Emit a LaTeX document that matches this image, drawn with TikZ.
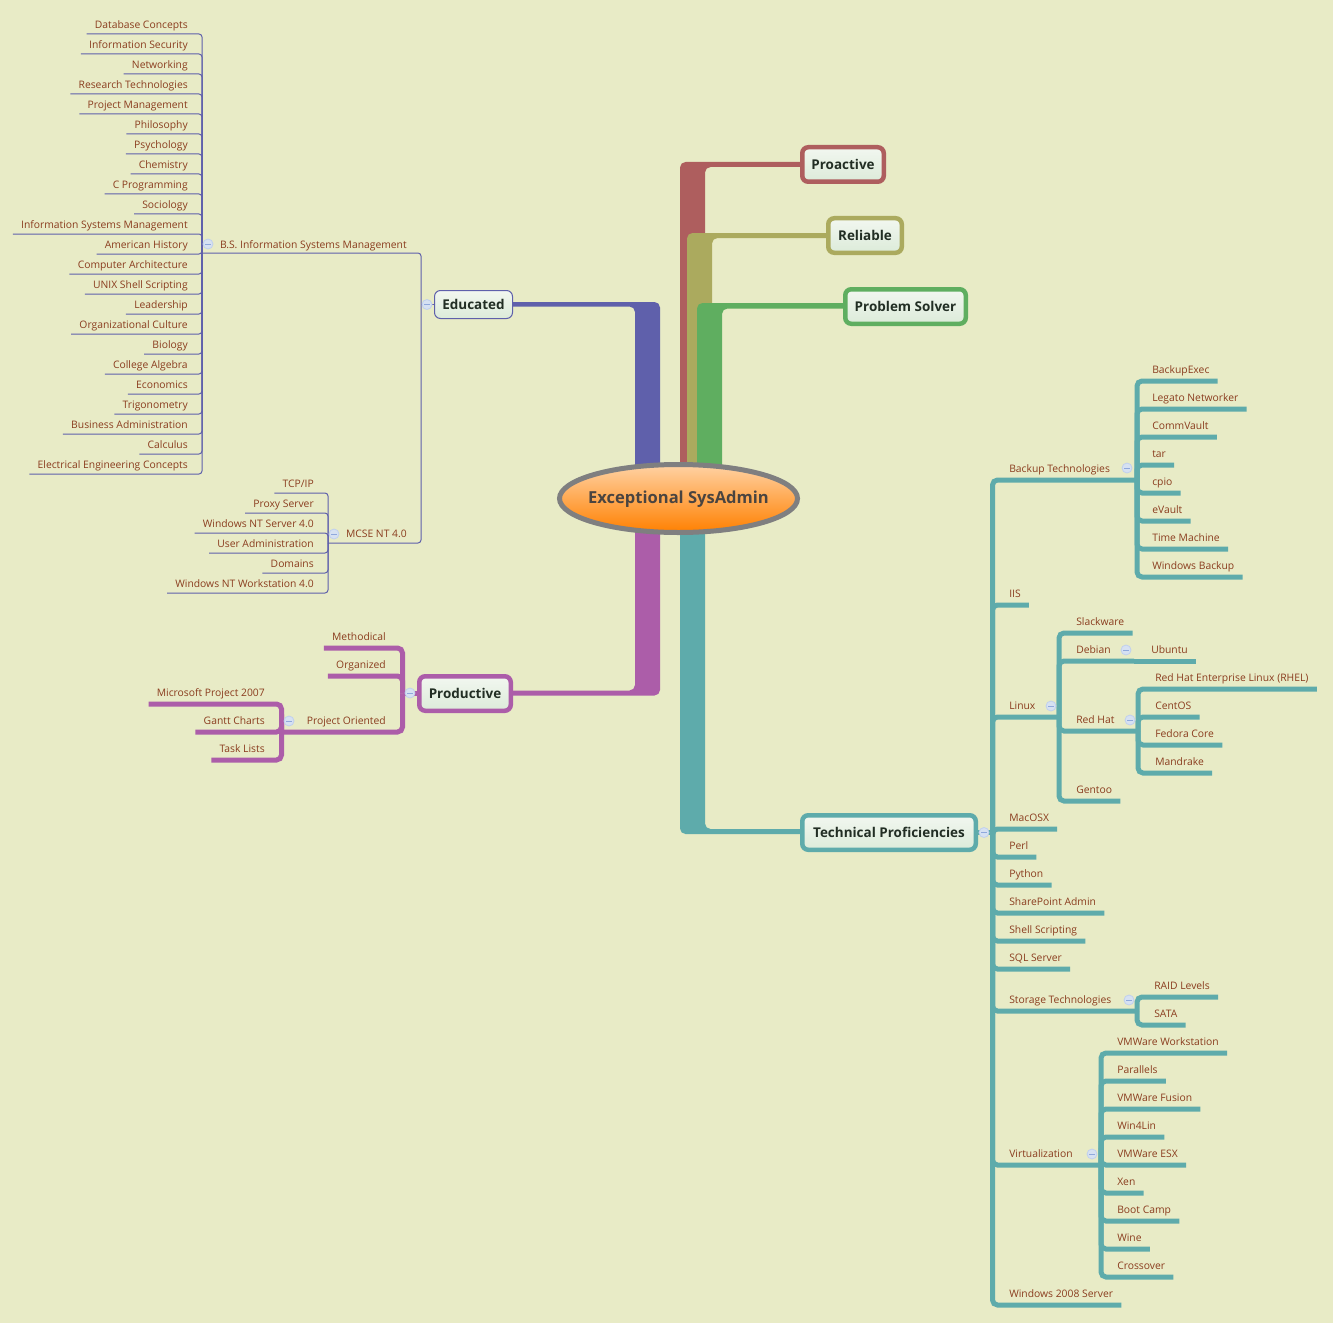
\documentclass[tikz,border=0pt]{standalone}
\usepackage{fontspec}
\setmainfont{Open Sans}
\usetikzlibrary{backgrounds,shapes.geometric}
\newdimen\pxu \pxu=0.75pt
\definecolor{bgc}{HTML}{E8EBC6}
\definecolor{cblue}{HTML}{5F60AB}
\definecolor{cred}{HTML}{AE5E5E}
\definecolor{colive}{HTML}{ABAA5E}
\definecolor{cgreen}{HTML}{5FAE60}
\definecolor{cteal}{HTML}{5EABAB}
\definecolor{cpurp}{HTML}{AC5DA9}
\definecolor{itemc}{HTML}{8A3C1E}
\definecolor{headc}{HTML}{222E24}
\definecolor{boxtop}{HTML}{F2F7F0}
\definecolor{boxbot}{HTML}{DCEBD9}
\definecolor{roottop}{HTML}{FFD2A4}
\definecolor{rootbot}{HTML}{FF8000}
\definecolor{rootedge}{HTML}{7F7F80}
\definecolor{roottext}{HTML}{4A4440}
\definecolor{markfill}{HTML}{D6E1F2}
\definecolor{markedge}{HTML}{C0D0EE}
\definecolor{markbar}{HTML}{8FA8DC}
\tikzset{
  item/.style={inner xsep=8\pxu,inner ysep=0pt,text=itemc,font=\fontsize{7.75}{9}\selectfont,text depth=0pt,text height=7\pxu},
  itemt/.style={item,inner ysep=7\pxu},
  itemb/.style={item,inner ysep=5.5\pxu},
  itemp/.style={item,inner ysep=4.5\pxu},
  topic/.style={rounded corners=6\pxu,draw,line width=4.5\pxu,inner sep=0pt,top color=boxtop,bottom color=boxbot,text=headc,font=\bfseries\fontsize{10.1}{12}\selectfont},
  rootn/.style={ellipse,draw=rootedge,line width=5\pxu,inner sep=0pt,top color=roottop,bottom color=rootbot,text=roottext,font=\bfseries\fontsize{12.4}{15}\selectfont},
  trunkfill/.style={rounded corners=5.5\pxu},
  blueline/.style={cblue,line width=1\pxu,rounded corners=3\pxu},
  purpline/.style={cpurp,line width=5\pxu,rounded corners=5\pxu},
  tealline/.style={cteal,line width=5\pxu,rounded corners=5\pxu},
  collapse/.style={circle,inner sep=0pt,minimum size=10\pxu,fill=markfill,draw=markedge,line width=0.8\pxu,
    path picture={\draw[markbar,line width=0.9\pxu] ([xshift=-2.6\pxu]path picture bounding box.center) -- ([xshift=2.6\pxu]path picture bounding box.center);}}
}
\newcommand{\LL}[6]{\node[#1,anchor=south east] (#2) at (#4+8,#5) {#6};}
\newcommand{\RR}[6]{\node[#1,anchor=south west] (#2) at (#4-8,#5) {#6};}
\newcommand{\LLL}[7]{\LL{#1}{#2}{#3}{#4}{#5}{#6}\draw[#7] (#3) |- (#2.south west);}
\newcommand{\RRR}[7]{\RR{#1}{#2}{#3}{#4}{#5}{#6}\draw[#7] (#3) |- (#2.south east);}
\newcommand{\trunk}[4]{%
 \coordinate (#2o) at (#3); \coordinate (#2i) at (#4);
 \fill[#1,trunkfill] (#2.center |- #2o) -- (#2o) -- (#2o |- root.center) -- (#2i |- root.center) -- (#2i) -- (#2.center |- #2i) -- cycle;}
\begin{document}
\begin{tikzpicture}[x=0.75pt,y=-0.75pt]
\useasboundingbox (0,0) rectangle (1333,1323);
\begin{scope}[on background layer]
\fill[bgc] (0,0) rectangle (1333,1323);
\end{scope}
\node[rootn,minimum width=238\pxu,minimum height=68\pxu] (root) at (678.5,498.5) {\makebox[0pt]{\smash{\raisebox{-3.4pt}{Exceptional SysAdmin}}}};
\node[topic,draw=cred,minimum width=81.5\pxu,minimum height=34.5\pxu] (pro) at (843,164.5) {Proactive};
\node[topic,draw=colive,minimum width=73.5\pxu,minimum height=34.5\pxu] (rel) at (865,235.5) {Reliable};
\node[topic,draw=cgreen,minimum width=120.5\pxu,minimum height=34.5\pxu] (sol) at (905.5,306.5) {Problem Solver};
\node[topic,draw=cteal,minimum width=173.5\pxu,minimum height=34.5\pxu] (tech) at (889,832.5) {Technical Proficiencies};
\node[topic,draw=cpurp,minimum width=91.5\pxu,minimum height=34.5\pxu] (prod) at (465,693.5) {Productive};
\node[topic,draw=cblue,line width=1\pxu,minimum width=78\pxu,minimum height=28\pxu] (edu) at (473.5,304.5) {Educated};
\begin{scope}[on background layer]
\trunk{cred}{pro}{680,162}{705,167}
\trunk{colive}{rel}{687,233}{712,238}
\trunk{cgreen}{sol}{697,303}{722,308.5}
\trunk{cblue}{edu}{660,302}{635,306.5}
\trunk{cpurp}{prod}{660,695.5}{635,690.5}
\trunk{cteal}{tech}{680,834}{705,829}
\end{scope}
% Educated
\coordinate (edj) at (421,304.5);
\draw[blueline] (edu.west) -- (edj);
\LL{itemp}{bs}{edj}{407}{253}{B.S. Information Systems Management}
\coordinate (bsj) at (202,253);
\draw[blueline] (edj) |- (bs.south west) -- (bsj);
\LL{itemb}{mcse}{edj}{407}{543}{MCSE NT 4.0}
\coordinate (mcj) at (328,543);
\draw[blueline] (edj) |- (mcse.south west) -- (mcj);
\LLL{itemb}{l1}{bsj}{188}{34}{Database Concepts}{blueline}
\LLL{itemb}{l2}{bsj}{188}{54}{Information Security}{blueline}
\LLL{itemb}{l3}{bsj}{188}{74}{Networking}{blueline}
\LLL{itemb}{l4}{bsj}{188}{94}{Research Technologies}{blueline}
\LLL{itemb}{l5}{bsj}{188}{114}{Project Management}{blueline}
\LLL{itemb}{l6}{bsj}{188}{134}{Philosophy}{blueline}
\LLL{itemb}{l7}{bsj}{188}{154}{Psychology}{blueline}
\LLL{itemb}{l8}{bsj}{188}{174}{Chemistry}{blueline}
\LLL{itemb}{l9}{bsj}{188}{194}{C Programming}{blueline}
\LLL{itemb}{l10}{bsj}{188}{214}{Sociology}{blueline}
\LLL{itemb}{l11}{bsj}{188}{234}{Information Systems Management}{blueline}
\LLL{itemb}{l12}{bsj}{188}{254}{American History}{blueline}
\LLL{itemb}{l13}{bsj}{188}{274}{Computer Architecture}{blueline}
\LLL{itemb}{l14}{bsj}{188}{294}{UNIX Shell Scripting}{blueline}
\LLL{itemb}{l15}{bsj}{188}{314}{Leadership}{blueline}
\LLL{itemb}{l16}{bsj}{188}{334}{Organizational Culture}{blueline}
\LLL{itemb}{l17}{bsj}{188}{354}{Biology}{blueline}
\LLL{itemb}{l18}{bsj}{188}{374}{College Algebra}{blueline}
\LLL{itemb}{l19}{bsj}{188}{394}{Economics}{blueline}
\LLL{itemb}{l20}{bsj}{188}{414}{Trigonometry}{blueline}
\LLL{itemb}{l21}{bsj}{188}{434}{Business Administration}{blueline}
\LLL{itemb}{l22}{bsj}{188}{454}{Calculus}{blueline}
\LLL{itemb}{l23}{bsj}{188}{474}{Electrical Engineering Concepts}{blueline}
\LLL{itemb}{m1}{mcj}{314}{493}{TCP/IP}{blueline}
\LLL{itemb}{m2}{mcj}{314}{513}{Proxy Server}{blueline}
\LLL{itemb}{m3}{mcj}{314}{533}{Windows NT Server 4.0}{blueline}
\LLL{itemb}{m4}{mcj}{314}{553}{User Administration}{blueline}
\LLL{itemb}{m5}{mcj}{314}{573}{Domains}{blueline}
\LLL{itemb}{m6}{mcj}{314}{593}{Windows NT Workstation 4.0}{blueline}
% Productive
\coordinate (prj) at (402.5,693.5);
\draw[purpline] (prod.west) -- (prj);
\LLL{itemt}{p1}{prj}{386}{648}{Methodical}{purpline}
\LLL{itemt}{p2}{prj}{386}{676}{Organized}{purpline}
\LL{itemt}{p3}{prj}{386}{732}{Project Oriented}
\coordinate (poj) at (281.5,732);
\draw[purpline] (prj) |- (p3.south west) -- (poj);
\LLL{itemt}{p4}{poj}{265}{704}{Microsoft Project 2007}{purpline}
\LLL{itemt}{p5}{poj}{265}{732}{Gantt Charts}{purpline}
\LLL{itemt}{p6}{poj}{265}{760}{Task Lists}{purpline}
% Technical
\coordinate (tj) at (992.5,832.5);
\draw[tealline] (tech.east) -- (tj);
\RR{itemt}{t1}{tj}{1009}{480}{Backup Technologies}
\coordinate (bkj) at (1137,480);
\draw[tealline] (tj) |- (t1.south east) -- (bkj);
\RRR{itemt}{b1}{bkj}{1152}{381}{BackupExec}{tealline}
\RRR{itemt}{b2}{bkj}{1152}{409}{Legato Networker}{tealline}
\RRR{itemt}{b3}{bkj}{1152}{437}{CommVault}{tealline}
\RRR{itemt}{b4}{bkj}{1152}{465}{tar}{tealline}
\RRR{itemt}{b5}{bkj}{1152}{493}{cpio}{tealline}
\RRR{itemt}{b6}{bkj}{1152}{521}{eVault}{tealline}
\RRR{itemt}{b7}{bkj}{1152}{549}{Time Machine}{tealline}
\RRR{itemt}{b8}{bkj}{1152}{577}{Windows Backup}{tealline}
\RRR{itemt}{t2}{tj}{1009}{605}{IIS}{tealline}
\RR{itemt}{t3}{tj}{1009}{717}{Linux}
\coordinate (lxj) at (1059,717);
\draw[tealline] (tj) |- (t3.south east) -- (lxj);
\RRR{itemt}{x1}{lxj}{1076}{633}{Slackware}{tealline}
\RR{itemt}{x2}{lxj}{1076}{661}{Debian}
\coordinate (dbj) at (1134,661);
\draw[tealline] (lxj) |- (x2.south east) -- (dbj);
\RR{itemt}{x2a}{dbj}{1151}{661}{Ubuntu}
\draw[tealline] (dbj) -- (x2a.south east);
\RR{itemt}{x3}{lxj}{1076}{731}{Red Hat}
\coordinate (rhj) at (1138,731);
\draw[tealline] (lxj) |- (x3.south east) -- (rhj);
\RRR{itemt}{r1}{rhj}{1155}{689}{Red Hat Enterprise Linux (RHEL)}{tealline}
\RRR{itemt}{r2}{rhj}{1155}{717}{CentOS}{tealline}
\RRR{itemt}{r3}{rhj}{1155}{745}{Fedora Core}{tealline}
\RRR{itemt}{r4}{rhj}{1155}{773}{Mandrake}{tealline}
\RRR{itemt}{x4}{lxj}{1076}{801}{Gentoo}{tealline}
\RRR{itemt}{t4}{tj}{1009}{829}{MacOSX}{tealline}
\RRR{itemt}{t5}{tj}{1009}{857}{Perl}{tealline}
\RRR{itemt}{t6}{tj}{1009}{885}{Python}{tealline}
\RRR{itemt}{t7}{tj}{1009}{913}{SharePoint Admin}{tealline}
\RRR{itemt}{t8}{tj}{1009}{941}{Shell Scripting}{tealline}
\RRR{itemt}{t9}{tj}{1009}{969}{SQL Server}{tealline}
\RR{itemt}{t10}{tj}{1009}{1011}{Storage Technologies}
\coordinate (stj) at (1137,1011);
\draw[tealline] (tj) |- (t10.south east) -- (stj);
\RRR{itemt}{s1}{stj}{1154}{997}{RAID Levels}{tealline}
\RRR{itemt}{s2}{stj}{1154}{1025}{SATA}{tealline}
\RR{itemt}{t11}{tj}{1009}{1165}{Virtualization}
\coordinate (vtj) at (1101,1165);
\draw[tealline] (tj) |- (t11.south east) -- (vtj);
\RRR{itemt}{v1}{vtj}{1117}{1053}{VMWare Workstation}{tealline}
\RRR{itemt}{v2}{vtj}{1117}{1081}{Parallels}{tealline}
\RRR{itemt}{v3}{vtj}{1117}{1109}{VMWare Fusion}{tealline}
\RRR{itemt}{v4}{vtj}{1117}{1137}{Win4Lin}{tealline}
\RRR{itemt}{v5}{vtj}{1117}{1165}{VMWare ESX}{tealline}
\RRR{itemt}{v6}{vtj}{1117}{1193}{Xen}{tealline}
\RRR{itemt}{v7}{vtj}{1117}{1221}{Boot Camp}{tealline}
\RRR{itemt}{v8}{vtj}{1117}{1249}{Wine}{tealline}
\RRR{itemt}{v9}{vtj}{1117}{1277}{Crossover}{tealline}
\RRR{itemt}{t12}{tj}{1009}{1305}{Windows 2008 Server}{tealline}
% collapse marks
\node[collapse] (c1) at (208,244) {};
\node[collapse] (c2) at (427,304.5) {};
\node[collapse] (c3) at (334,534) {};
\node[collapse] (c4) at (410,693) {};
\node[collapse] (c5) at (289,721) {};
\node[collapse] (c6) at (984,832.5) {};
\node[collapse] (c7) at (1127,468) {};
\node[collapse] (c8) at (1051,706) {};
\node[collapse] (c9) at (1126,650) {};
\node[collapse] (c10) at (1130,720) {};
\node[collapse] (c11) at (1129,1000) {};
\node[collapse] (c12) at (1092,1154) {};
\end{tikzpicture}
\end{document}
